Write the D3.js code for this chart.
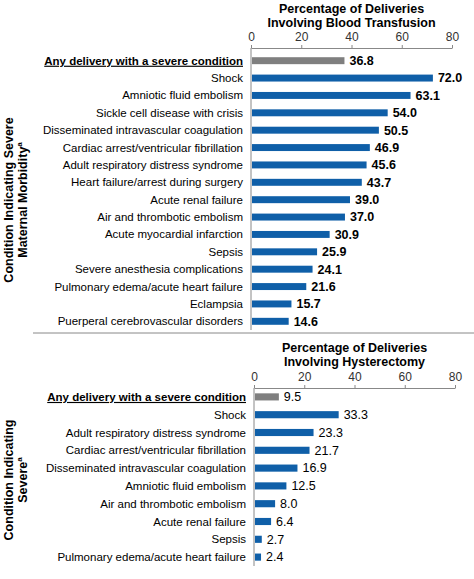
<!DOCTYPE html><html><head><script src="https://cdn.jsdelivr.net/npm/d3@7"></script>
<style>body{margin:0;background:#fff}text{font-family:Arial,"Liberation Sans",sans-serif}</style></head><body>
<svg id="c" width="474" height="579"></svg>
<script>
const cats1=["Any delivery with a severe condition","Shock","Amniotic fluid embolism","Sickle cell disease with crisis","Disseminated intravascular coagulation","Cardiac arrest/ventricular fibrillation","Adult respiratory distress syndrome","Heart failure/arrest during surgery","Acute renal failure","Air and thrombotic embolism","Acute myocardial infarction","Sepsis","Severe anesthesia complications","Pulmonary edema/acute heart failure","Eclampsia","Puerperal cerebrovascular disorders"];
const vals1=[36.8,72.0,63.1,54.0,50.5,46.9,45.6,43.7,39.0,37.0,30.9,25.9,24.1,21.6,15.7,14.6];
const cats2=["Any delivery with a severe condition","Shock","Adult respiratory distress syndrome","Cardiac arrest/ventricular fibrillation","Disseminated intravascular coagulation","Amniotic fluid embolism","Air and thrombotic embolism","Acute renal failure","Sepsis","Pulmonary edema/acute heart failure"];
const vals2=[9.5,33.3,23.3,21.7,16.9,12.5,8.0,6.4,2.7,2.4];
const ticks=[0,20,40,60,80];
const svg=d3.select("#c");
function panel(cats,vals,o){
  const g=svg.append("g");
  const x=d3.scaleLinear().domain([0,80]).range([o.x0,o.x1]);
  const y=d3.scaleBand().domain(cats).range([o.yTop,o.yBot]).paddingInner(0.6).paddingOuter(0.3);
  g.append("g").attr("transform",`translate(0,${o.axisY})`).call(d3.axisTop(x).tickValues(ticks).tickSize(3).tickSizeOuter(0))
   .call(a=>{a.select(".domain").attr("stroke","#888");a.selectAll(".tick line").attr("stroke","#888");a.selectAll("text").attr("font-size",12).attr("fill","#333").attr("dy","-0.1em");});
  g.append("line").attr("x1",o.x0).attr("x2",o.x0).attr("y1",o.axisY).attr("y2",o.yBot).attr("stroke","#888");
  g.selectAll("rect").data(cats).join("rect").attr("x",x(0)+1).attr("y",d=>y(d)).attr("height",y.bandwidth())
   .attr("width",(d,i)=>x(vals[i])-x(0)).attr("fill",(d,i)=>i?"#0f5fa8":"#7f7f7f");
  g.selectAll(".v").data(cats).join("text").attr("x",(d,i)=>x(vals[i])+6).attr("y",d=>y(d)+y.bandwidth()/2).attr("dy","0.35em")
   .attr("font-size",o.vs).attr("font-weight",o.vb).attr("fill","#000").text((d,i)=>vals[i].toFixed(1));
  g.selectAll(".l").data(cats).join("text").attr("x",o.x0-8).attr("y",d=>y(d)+y.bandwidth()/2).attr("dy","0.35em")
   .attr("text-anchor","end").attr("font-size",11.5).attr("fill","#000")
   .attr("font-weight",(d,i)=>i?null:"bold").attr("text-decoration",(d,i)=>i?null:"underline").text(d=>d);
  g.append("text").attr("x",(o.x0+o.x1)/2).attr("y",o.tY).attr("text-anchor","middle").attr("font-size",12.5).attr("font-weight","bold").text(o.t1);
  g.append("text").attr("x",(o.x0+o.x1)/2).attr("y",o.tY+14).attr("text-anchor","middle").attr("font-size",12.5).attr("font-weight","bold").text(o.t2);
  const yt=g.append("text").attr("transform",`translate(13,${o.cy}) rotate(-90)`).attr("text-anchor","middle").attr("font-size",12.5).attr("font-weight","bold");
  yt.append("tspan").attr("x",0).attr("dy",0).text(o.a1);
  const t2=yt.append("tspan").attr("x",0).attr("dy",14).text(o.a2);
  t2.append("tspan").attr("font-size",8).attr("dy",-5).text("a");
}
panel(cats1,vals1,{x0:251,x1:452,axisY:48,yTop:52,yBot:330,vs:12.5,vb:"bold",tY:13,t1:"Percentage of Deliveries",t2:"Involving Blood Transfusion",cy:200,a1:"Condition Indicating Severe",a2:"Maternal Morbidity"});
svg.append("line").attr("x1",33).attr("x2",474).attr("y1",333).attr("y2",333).attr("stroke","#888");
panel(cats2,vals2,{x0:254,x1:455,axisY:388,yTop:388,yBot:566,vs:12.5,vb:null,tY:352,t1:"Percentage of Deliveries",t2:"Involving Hysterectomy",cy:480,a1:"Condition Indicating",a2:"Severe"});
</script></body></html>
